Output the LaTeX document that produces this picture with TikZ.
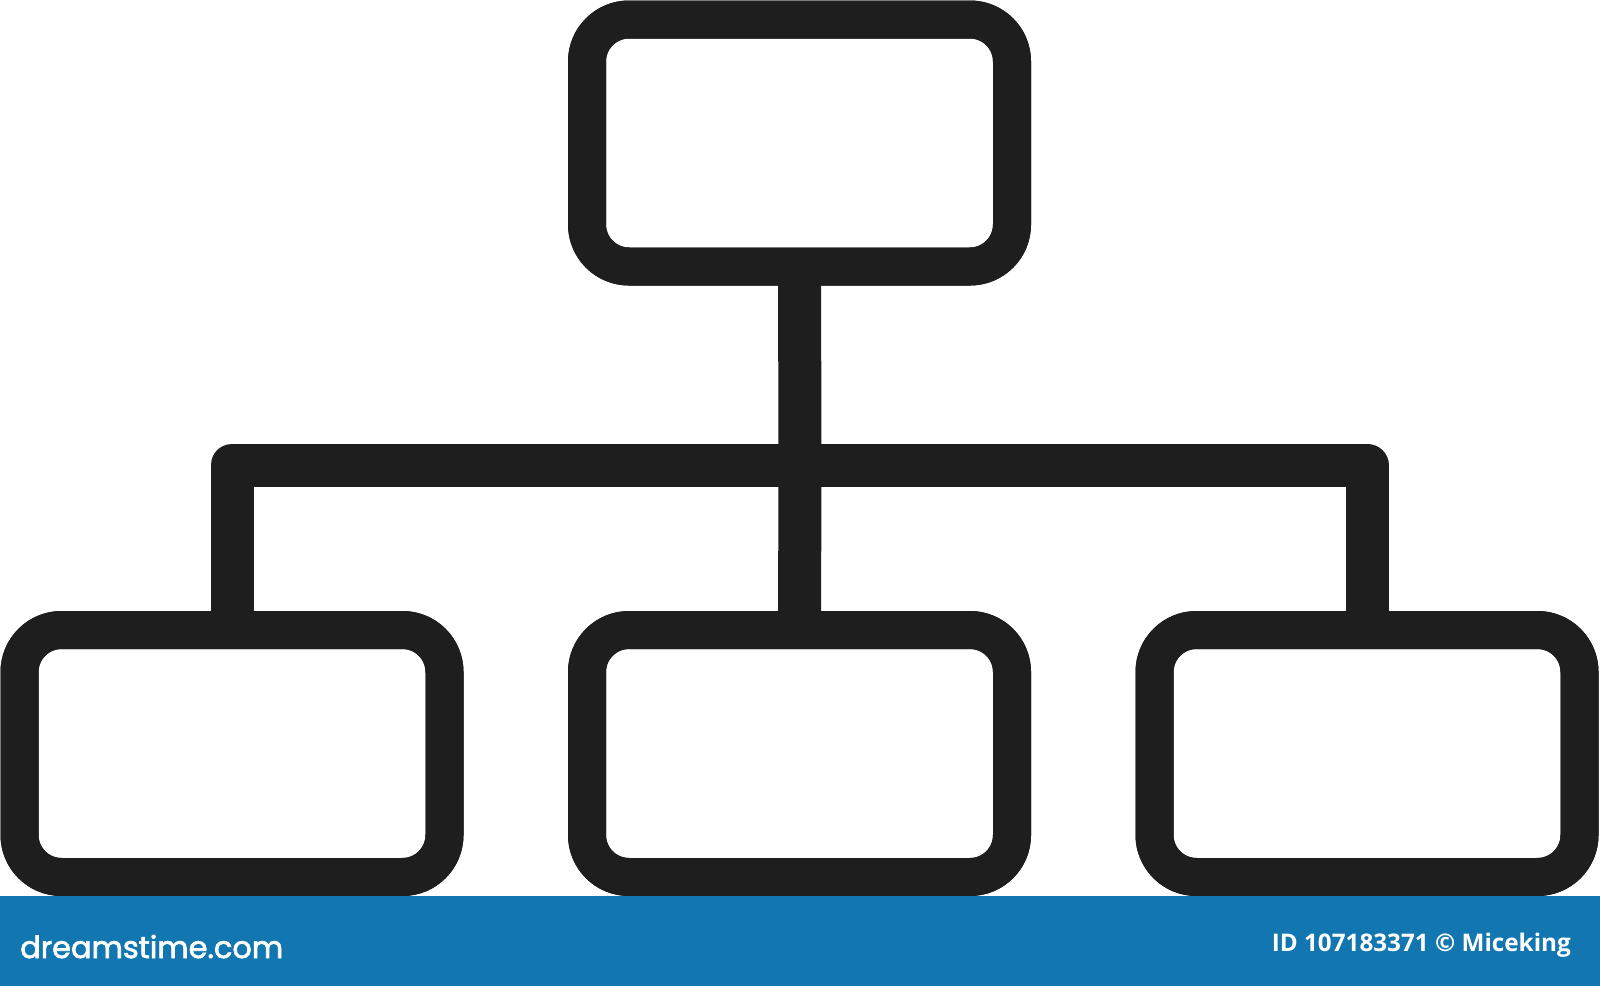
\documentclass[tikz,border=0pt]{standalone}
\usepackage{fontspec}
\setmainfont{Open Sans}
\newfontfamily\logofont[FakeBold=2.2]{Poppins}
\newfontfamily\idfont{Open Sans}
\definecolor{ink}{RGB}{30,30,30}
\definecolor{barblue}{RGB}{18,118,177}
\begin{document}
\begin{tikzpicture}[x=1pt,y=-1pt,
  orgbox/.style={draw=ink, line width=38pt, rounded corners=42pt, fill=white,
    inner sep=0pt, outer sep=0pt, minimum width=425pt, minimum height=247pt},
  link/.style={draw=ink, line width=43pt, line join=round}]
\useasboundingbox (0,0) rectangle (1600,986);
\fill[white] (0,0) rectangle (1600,986);
\coordinate (j) at (800,465);
\node[orgbox] (top) at (799.5,143) {};
\node[orgbox] (lb) at (232,753.5) {};
\node[orgbox] (mb) at (799.5,753.5) {};
\node[orgbox] (rb) at (1367,753.5) {};
% connectors
\draw[link] (top.south) -- (j);
\draw[link] (lb.north) |- (j) -| (rb.north);
\draw[link] (j) -- (mb.north);
% box outlines again, over the connector ends
\node[orgbox, fill=none] at (799.5,143) {};
\node[orgbox, fill=none] at (232,753.5) {};
\node[orgbox, fill=none] at (799.5,753.5) {};
\node[orgbox, fill=none] at (1367,753.5) {};
% bottom bar
\fill[barblue] (0,896) rectangle (1600,986);
\node[anchor=base west, inner sep=0pt, text=white] (logo) at (20,958)
  {\resizebox{263pt}{!}{\logofont dreamstime.com}};
\node[anchor=base east, inner sep=0pt, text=white] (credit) at (1571,951)
  {\resizebox{299pt}{!}{\idfont\bfseries ID 107183371 © Miceking}};
\end{tikzpicture}
\end{document}
